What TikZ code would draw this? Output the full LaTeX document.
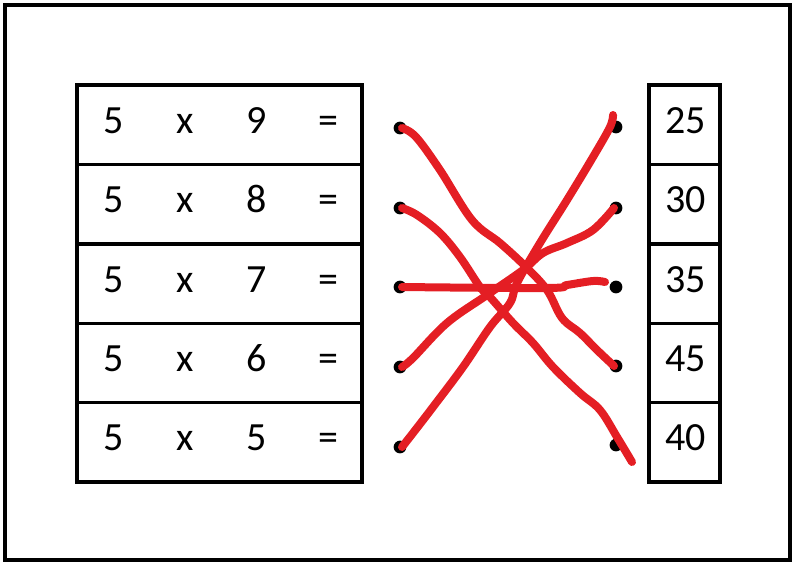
\documentclass[tikz,border=0pt]{standalone}
\usepackage{fontspec}
\setmainfont{Carlito}
\usepackage{tikz}
\definecolor{pen}{RGB}{228, 30, 36}

\begin{document}
\begin{tikzpicture}[x=1pt, y=1pt,
  every node/.style={inner sep=0pt},
  cell/.style={rectangle, draw=black, line width=3.4pt, minimum height=79.4pt},
  sum/.style={anchor=base, font=\fontsize{40}{42}\selectfont},
  blob/.style={circle, inner sep=4.5pt, fill=black},
  pen/.style={draw=pen, line width=8pt, line cap=round, line join=round}]
\useasboundingbox (0,0) rectangle (794,-562);
\draw [line width=3.4pt] (5,-5) rectangle (790,-560);
% left table
\node (s1) [cell, minimum width=285pt] at (219.5, -124.7) {};
\node (s2) [cell, minimum width=285pt] at (219.5, -204.1) {};
\node (s3) [cell, minimum width=285pt] at (219.5, -283.5) {};
\node (s4) [cell, minimum width=285pt] at (219.5, -362.9) {};
\node (s5) [cell, minimum width=285pt] at (219.5, -442.3) {};
\node (a1) [sum] at (114, -133.2) {5};
\node (b1) [sum] at (185, -133.2) {x};
\node (c1) [sum] at (257, -133.2) {9};
\node (e1) [sum] at (328, -133.2) {=};
\node (a2) [sum] at (114, -212.6) {5};
\node (b2) [sum] at (185, -212.6) {x};
\node (c2) [sum] at (257, -212.6) {8};
\node (e2) [sum] at (328, -212.6) {=};
\node (a3) [sum] at (114, -292.0) {5};
\node (b3) [sum] at (185, -292.0) {x};
\node (c3) [sum] at (257, -292.0) {7};
\node (e3) [sum] at (328, -292.0) {=};
\node (a4) [sum] at (114, -371.4) {5};
\node (b4) [sum] at (185, -371.4) {x};
\node (c4) [sum] at (257, -371.4) {6};
\node (e4) [sum] at (328, -371.4) {=};
\node (a5) [sum] at (114, -450.8) {5};
\node (b5) [sum] at (185, -450.8) {x};
\node (c5) [sum] at (257, -450.8) {5};
\node (e5) [sum] at (328, -450.8) {=};
% right column
\node (p1) [cell, minimum width=71pt] at (684.5, -124.7) {};
\node (p2) [cell, minimum width=71pt] at (684.5, -204.1) {};
\node (p3) [cell, minimum width=71pt] at (684.5, -283.5) {};
\node (p4) [cell, minimum width=71pt] at (684.5, -362.9) {};
\node (p5) [cell, minimum width=71pt] at (684.5, -442.3) {};
\node (n1) [sum] at (685.5, -133.2) {25};
\node (n2) [sum] at (685.5, -212.6) {30};
\node (n3) [sum] at (685.5, -292.0) {35};
\node (n4) [sum] at (685.5, -371.4) {45};
\node (n5) [sum] at (685.5, -450.8) {40};
% dots
\node (l1) [blob] at (400, -128) {};
\node (l2) [blob] at (400, -208) {};
\node (l3) [blob] at (400, -287) {};
\node (l4) [blob] at (400, -367) {};
\node (l5) [blob] at (400, -447) {};
\node (r1) [blob] at (616, -127) {};
\node (r2) [blob] at (616, -208) {};
\node (r3) [blob] at (616, -287) {};
\node (r4) [blob] at (616, -366) {};
\node (r5) [blob] at (616, -445) {};
\coordinate (endB) at (632, -462);
\coordinate (endC) at (605, -282);
\coordinate (endE) at (613, -115);
% red lines
\draw [pen] plot [smooth, tension=0.6] coordinates {([xshift=2pt]l1.center) (416,-137) (440,-170) (472,-220) (500,-243) (525,-266) (547,-290) (562,-318) (580,-333) (597,-350) ([xshift=-2pt]r4.center)};
\draw [pen] plot [smooth, tension=0.6] coordinates {([xshift=2pt]l2.center) (417,-215) (440,-233) (460,-257) (480,-287) (490,-297) (513,-323) (533,-343) (553,-367) (580,-393) (600,-410) (617,-437) (endB)};
\draw [pen] plot [smooth, tension=0.6] coordinates {([xshift=2pt]l3.center) (547,-288) (567,-285) (593,-281) (endC)};
\draw [pen] plot [smooth, tension=0.6] coordinates {([xshift=2pt]l4.center) (413,-358) (447,-323) (487,-295) (523,-270) (543,-253) (567,-243) (593,-230) ([xshift=-2pt]r2.center)};
\draw [pen] plot [smooth, tension=0.6] coordinates {([xshift=2pt]l5.center) (413,-433) (433,-407) (463,-367) (490,-327) (510,-303) (517,-283) (540,-243) (567,-200) (593,-157) (610,-127) (endE)};
\end{tikzpicture}
\end{document}
